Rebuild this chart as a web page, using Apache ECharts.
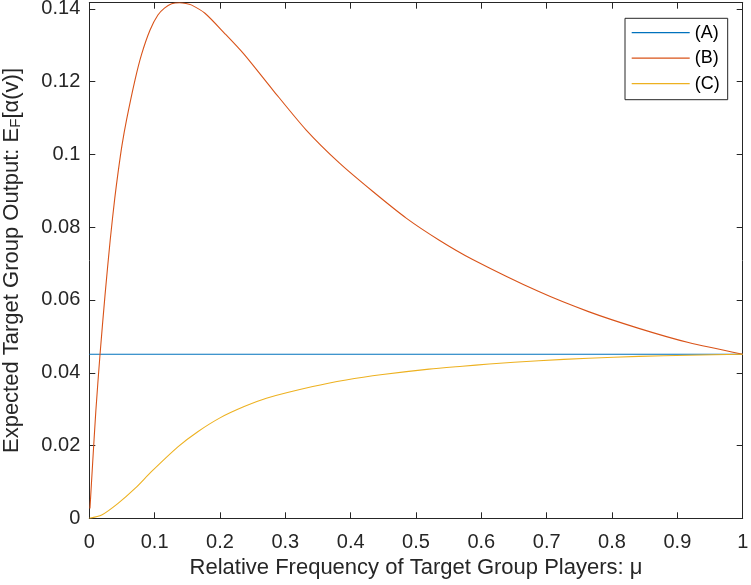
<!DOCTYPE html>
<html>
<head>
<meta charset="utf-8">
<script src="https://cdn.jsdelivr.net/npm/echarts@6/dist/echarts.min.js"></script>
<style>
html,body{margin:0;padding:0;background:#fff;}
#c{width:751px;height:585px;}
</style>
</head>
<body>
<div id="c"></div>
<script>
// ---- data ----
var seriesNames = ['(A)', '(B)', '(C)'];
var xTicks = [0, 0.1, 0.2, 0.3, 0.4, 0.5, 0.6, 0.7, 0.8, 0.9, 1];
var yTicks = [0, 0.02, 0.04, 0.06, 0.08, 0.1, 0.12, 0.14];

var muA = [0, 1];
var valA = [0.0451, 0.0451];

var muB = [0.001, 0.005, 0.010, 0.0164, 0.024, 0.032, 0.039, 0.044, 0.050, 0.057, 0.070,
           0.080, 0.093, 0.105, 0.115, 0.126, 0.138, 0.148, 0.156, 0.177, 0.207, 0.237, 0.281,
           0.332, 0.383, 0.434, 0.485, 0.535, 0.586, 0.688, 0.764, 0.841, 0.917, 1.0];
var valB = [0.0027, 0.0148, 0.0295, 0.0450, 0.0612, 0.0765, 0.0880, 0.0950, 0.1025, 0.1095, 0.1205,
            0.1275, 0.1342, 0.1383, 0.1402, 0.1414, 0.1417, 0.1415, 0.1411, 0.1388, 0.1333, 0.1275, 0.1177,
            0.1067, 0.0976, 0.0898, 0.0825, 0.0765, 0.0712, 0.0623, 0.0568, 0.0522, 0.0483, 0.0451];

var muC = [0, 0.019, 0.044, 0.070, 0.095, 0.136, 0.166, 0.200, 0.237, 0.271, 0.342, 0.393,
           0.449, 0.520, 0.571, 0.612, 0.688, 0.764, 0.841, 0.917, 1.0];
var valC = [0, 0.0009, 0.0041, 0.0082, 0.0128, 0.0197, 0.0238, 0.0276, 0.0307, 0.0330, 0.0362, 0.0380,
            0.0395, 0.0410, 0.0418, 0.0424, 0.0433, 0.0440, 0.0445, 0.0448, 0.0451];

var yMax = 0.1417;

function pairs(xs, ys) { return xs.map(function (x, i) { return [x, ys[i]]; }); }

var axisCol = '#262626';
var fontFam = '"Liberation Sans", Arial, Helvetica, sans-serif';

var chart = echarts.init(document.getElementById('c'), null, {renderer: 'canvas'});

function baseX(pos, showLabel) {
  return {
    type: 'value', position: pos, min: xTicks[0], max: xTicks[xTicks.length - 1], interval: 0.1,
    axisLine: {show: true, onZero: false, lineStyle: {color: axisCol, width: 1}},
    axisTick: {show: true, inside: true, length: 6, lineStyle: {color: axisCol, width: 1}},
    axisLabel: {show: showLabel, margin: 14, color: axisCol, fontSize: 20, fontFamily: fontFam},
    splitLine: {show: false}
  };
}
function baseY(pos, showLabel) {
  return {
    type: 'value', position: pos, min: yTicks[0], max: yMax, interval: 0.02,
    axisLine: {show: true, onZero: false, lineStyle: {color: axisCol, width: 1}},
    axisTick: {show: true, inside: true, length: 6, lineStyle: {color: axisCol, width: 1}},
    axisLabel: {show: showLabel, margin: 9, color: axisCol, fontSize: 20, fontFamily: fontFam,
                showMaxLabel: false},
    splitLine: {show: false}
  };
}

var x0 = baseX('bottom', true);
x0.name = 'Relative Frequency of Target Group Players: μ';
x0.nameLocation = 'middle';
x0.nameGap = 36;
x0.nameTextStyle = {color: axisCol, fontSize: 22, fontFamily: fontFam};

var y0 = baseY('left', true);
y0.name = '{a|Expected Target Group Output: E}{s|F}{a|[α(v)]}';
y0.nameLocation = 'middle';
y0.nameGap = 66;
y0.nameTextStyle = {
  color: axisCol, fontSize: 22, fontFamily: fontFam,
  rich: {
    a: {color: axisCol, fontSize: 22, fontFamily: fontFam, lineHeight: 22},
    s: {color: axisCol, fontSize: 15, fontFamily: fontFam, lineHeight: 15, padding: [18, 0, 0, 0], verticalAlign: 'bottom'}
  }
};

var option = {
  backgroundColor: '#ffffff',
  animation: false,
  grid: {left: 89.3, right: 8.3, top: 2.7, bottom: 66.7, containLabel: false, outerBoundsMode: 'none'},
  xAxis: [x0, baseX('top', false)],
  yAxis: [y0, baseY('right', false)],
  legend: {
    show: true, orient: 'vertical', left: 625, top: 18.3,
    icon: 'rect', itemWidth: 58, itemHeight: 1.3, itemGap: 7.5,
    padding: [5.4, 8, 7, 6.7],
    backgroundColor: '#ffffff', borderColor: axisCol, borderWidth: 1, borderRadius: 0,
    textStyle: {color: '#000', fontSize: 18, fontFamily: fontFam},
    data: seriesNames
  },
  series: [
    {name: seriesNames[0], type: 'line', data: pairs(muA, valA), showSymbol: false, symbol: 'none',
     lineStyle: {color: '#0072BD', width: 1.1}, itemStyle: {color: '#0072BD'}},
    {name: seriesNames[1], type: 'line', data: pairs(muB, valB), showSymbol: false, symbol: 'none',
     smooth: 0.25,
     lineStyle: {color: '#D95319', width: 1.1}, itemStyle: {color: '#D95319'}},
    {name: seriesNames[2], type: 'line', data: pairs(muC, valC), showSymbol: false, symbol: 'none',
     smooth: 0.25,
     lineStyle: {color: '#EDB120', width: 1.1}, itemStyle: {color: '#EDB120'}}
  ]
};
chart.setOption(option);
</script>
</body>
</html>
